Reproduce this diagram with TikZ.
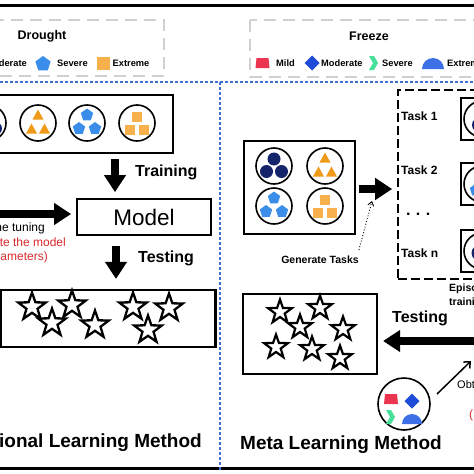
\documentclass[tikz,border=0pt]{standalone}
\usepackage{fontspec}
\setmainfont{Liberation Sans}
\usetikzlibrary{shapes.geometric,arrows.meta,calc}
\definecolor{navy}{HTML}{13246B}
\definecolor{orgT}{HTML}{F09A1A}
\definecolor{orgS}{HTML}{F7B04C}
\definecolor{bluP}{HTML}{3A8EEA}
\definecolor{redF}{HTML}{EB3550}
\definecolor{bluD}{HTML}{1F4BD9}
\definecolor{grnF}{HTML}{46E09A}
\definecolor{bluH}{HTML}{3D6FE6}
\definecolor{dotblue}{HTML}{3F6FD1}
\definecolor{redtxt}{HTML}{DA2A2E}
\definecolor{lgray}{HTML}{D0D0D0}
\newcommand\myfs[1]{\fontsize{#1}{#1}\selectfont}
\tikzset{
  pent/.pic={\fill[bluP] (90:#1 pt) -- (162:#1 pt) -- (234:#1 pt) -- (306:#1 pt) -- (18:#1 pt) -- cycle;},
  tri/.pic={\fill[orgT] (-5.5,4.5) -- (5.5,4.5) -- (0,-5.5) -- cycle;},
  sq/.pic={\fill[orgS] (-#1,-#1) rectangle (#1,#1);},
  trap/.pic={\fill[redF] (-7,5) -- (7,5) -- (6,-5) -- (-6,-5) -- cycle;},
  diam/.pic={\fill[bluD] (0,-#1) -- (#1,0) -- (0,#1) -- (-#1,0) -- cycle;},
  chev/.pic={\fill[grnF] (-4,-7) -- (1,-7) -- (5,0) -- (1,7) -- (-4,7) -- (0,0) -- cycle;},
  half/.pic={\fill[bluH] (-#1,0) -- (#1,0) arc[start angle=0, end angle=-180, radius=#1] -- cycle;},
  navygrp/.pic={\fill[navy] (0,-7) circle[radius=6.5pt]; \fill[navy] (-7.5,5.5) circle[radius=6.5pt]; \fill[navy] (7.5,5.5) circle[radius=6.5pt];},
  trigrp/.pic={\pic at (0,-8) {tri}; \pic at (-6.5,6) {tri}; \pic at (6.5,6) {tri};},
  pentgrp/.pic={\pic at (0,-8) {pent=6.5}; \pic at (-8,5.5) {pent=6.5}; \pic at (8,5.5) {pent=6.5};},
  sqgrp/.pic={\pic at (0,-6) {sq=5}; \pic at (-7,7) {sq=5}; \pic at (7,7) {sq=5};},
}
\begin{document}
\begin{tikzpicture}[x=1pt,y=-1pt,
  box/.style={draw, rectangle, line width=2.2pt, inner sep=0},
  grp/.style={draw, circle, line width=1.6pt, inner sep=0, minimum size=36pt},
  txt/.style={inner sep=0},
  bold/.style={inner sep=0, font=\bfseries},
  bigarrow/.style={line width=7.5pt, -{Triangle[width=21pt,length=17pt]}},
  lgbox/.style={draw=lgray, line width=2.5pt, dash pattern=on 12pt off 7pt},
  bdot/.style={draw=dotblue, line width=2.2pt, dash pattern=on 3pt off 2pt},
  lstar/.style={draw, fill=white, star, star points=5, star point ratio=2.5, minimum size=29pt, inner sep=0, line width=2.3pt},
  rstar/.style={draw, fill=white, star, star points=5, star point ratio=2.5, minimum size=25pt, inner sep=0, line width=2.2pt},
]
\clip (0,0) rectangle (474,474);
\fill[white] (0,0) rectangle (474,474);
% frame lines
\draw[line width=3pt] (-10,5) -- (484,5);
\draw[line width=3pt] (-10,468.5) -- (484,468.5);
% legends
\draw[lgbox] (-20,20) rectangle (164,76);
\draw[lgbox] (250,20) rectangle (510,77);
\node[bold, font=\bfseries\myfs{12.5}] (dtitle) at (42,36) {Drought};
\node[bold, font=\bfseries\myfs{9.3}, anchor=east] (dmod) at (27,63) {Moderate};
\pic at (43,64) {pent=8};
\node[bold, font=\bfseries\myfs{9.3}, anchor=west] (dsev) at (57,63) {Severe};
\pic at (103.5,63) {sq=6.5};
\node[bold, font=\bfseries\myfs{9.3}, anchor=west] (dext) at (112.5,63) {Extreme};
\node[bold, font=\bfseries\myfs{12.5}] (ftitle) at (369,36) {Freeze};
\pic at (262.5,63) {trap};
\node[bold, font=\bfseries\myfs{9.3}, anchor=west] (fmild) at (276,63) {Mild};
\pic at (312,63) {diam=7.5};
\node[bold, font=\bfseries\myfs{9.3}, anchor=west] (fmod) at (321,63) {Moderate};
\pic at (373,63) {chev};
\node[bold, font=\bfseries\myfs{9.3}, anchor=west] (fsev) at (382,63) {Severe};
\pic at (433,69) {half=11};
\node[bold, font=\bfseries\myfs{9.3}, anchor=west] (fext) at (447,63) {Extreme};
% blue dotted separators
\draw[bdot] (0,82) -- (474,82);
\draw[bdot] (220,82) -- (220,470);
% ===== left panel =====
\node[box, minimum width=183pt, minimum height=58pt] (ldata) at (81.5,124) {};
\node[grp] (lc0) at (-12,123) {}; \pic at (-12,123) {navygrp};
\node[grp] (lc1) at (38,123) {}; \pic at (38,123) {trigrp};
\node[grp] (lc2) at (87,123) {}; \pic at (87,123) {pentgrp};
\node[grp] (lc3) at (137,123) {}; \pic at (137,123) {sqgrp};
\node[box, line width=1.8pt, minimum width=134pt, minimum height=36pt, font=\myfs{22.5}] (model) at (144,217) {Model};
\node[box, minimum width=215pt, minimum height=57pt] (starsL) at (108,318.5) {};
\coordinate (tr) at (115,0);
\coordinate (te) at (116,0);
\draw[bigarrow, shorten <=5pt, shorten >=6pt] (ldata.south -| tr) -- (model.north -| tr);
\node[bold, font=\bfseries\myfs{16}, anchor=west] (training) at (135,172) {Training};
\coordinate (inL) at (-5,214);
\draw[bigarrow, shorten >=5pt] (inL) -- (model.west |- inL);
\node[txt, font=\myfs{12}, anchor=east] (ft1) at (45,228) {Fine tuning};
\node[txt, font=\myfs{12}, text=redtxt, anchor=east] (ft2) at (66,243) {(Update the model};
\node[txt, font=\myfs{12}, text=redtxt, anchor=east] (ft3) at (48,257) {parameters)};
\draw[bigarrow, shorten <=10pt, shorten >=10pt] (model.south -| te) -- (starsL.north -| te);
\node[bold, font=\bfseries\myfs{16}, anchor=west] (testL) at (138,258) {Testing};
\node[lstar] (a1) at (32,307) {};
\node[lstar] (a2) at (52,323) {};
\node[lstar] (a3) at (72,305) {};
\node[lstar] (a4) at (95,325) {};
\node[lstar] (a5) at (133,307) {};
\node[lstar] (a6) at (148,330) {};
\node[lstar] (a7) at (169,308) {};
\node[bold, font=\bfseries\myfs{19}, anchor=east] (tlm) at (202,443) {Traditional Learning Method};
% ===== right panel =====
\node[box, minimum width=111pt, minimum height=93pt] (bigdata) at (299.5,187.5) {};
\node[grp] (rc1) at (274,166) {}; \pic at (274,166) {navygrp};
\node[grp] (rc2) at (325,166) {}; \pic at (325,166) {trigrp};
\node[grp] (rc3) at (274,206) {}; \pic at (274,206) {pentgrp};
\node[grp] (rc4) at (325,206) {}; \pic at (325,206) {sqgrp};
\node[draw, rectangle, line width=1.6pt, dash pattern=on 9pt off 4pt, inner sep=0, minimum width=102pt, minimum height=189pt] (episode) at (449,184.5) {};
\draw[bigarrow, shorten <=3pt, shorten >=5pt] (bigdata.east |- 0,189) -- (episode.west |- 0,189);
\coordinate (gt) at (372,201);
\node[bold, font=\bfseries\myfs{10.5}] (gen) at (320,260) {Generate Tasks};
\draw[line width=0.9pt, dotted, -{Straight Barb[length=4pt,width=6pt]}] ([yshift=6pt]gen.north east) -- (gt);
\node[bold, font=\bfseries\myfs{12}, anchor=west] (task1) at (401,116) {Task 1};
\node[bold, font=\bfseries\myfs{12}, anchor=west] (task2) at (401,170) {Task 2};
\node[bold, font=\bfseries\myfs{16}, anchor=west] (dots) at (406,214) {.\,\,.\,\,.};
\node[bold, font=\bfseries\myfs{12}, anchor=west] (taskn) at (401,253) {Task n};
\node[box, line width=2pt, minimum width=36pt, minimum height=42pt] (tb1) at (479,119) {};
\node[box, line width=2pt, minimum width=36pt, minimum height=42pt] (tb2) at (479,184) {};
\node[box, line width=2pt, minimum width=36pt, minimum height=42pt] (tbn) at (479,251) {};
\node[grp] (tc1) at (482,119) {}; \fill[navy] (479,125) circle[radius=7pt];
\node[grp] (tc2) at (482,184) {}; \pic at (476,190) {pent=6.5};
\node[grp] (tcn) at (482,251) {}; \fill[navy] (479,253) circle[radius=7.5pt];
\node[bold, font=\bfseries\myfs{10.5}, anchor=west] (epi1) at (449,289) {Episodic};
\node[bold, font=\bfseries\myfs{10.5}, anchor=west] (epi2) at (449,303) {training};
\node[box, minimum width=134pt, minimum height=80pt] (starsR) at (310,334) {};
\node[rstar] (b1) at (280,312) {};
\node[rstar] (b2) at (320,308) {};
\node[rstar] (b3) at (300,327) {};
\node[rstar] (b4) at (343,329) {};
\node[rstar] (b5) at (276,347) {};
\node[rstar] (b6) at (312,349) {};
\node[rstar] (b7) at (340,358) {};
\node[bold, font=\bfseries\myfs{16}, anchor=west] (testR) at (392,318) {Testing};
\coordinate (outR) at (490,341);
\draw[bigarrow, shorten >=5pt] (outR) -- (starsR.east |- outR);
\node[draw, circle, line width=1.6pt, inner sep=0, minimum size=52pt] (fc) at (404,404) {};
\pic at (391,399) {trap};
\pic at (412,401) {diam=7.5};
\pic at (390,417) {chev};
\pic at (412,424) {half=10};
\coordinate (obs) at (471,361);
\draw[line width=1.5pt, -{Straight Barb[length=5pt,width=9pt]}] (437,394) -- (obs);
\node[txt, font=\myfs{11}, anchor=west] (obt) at (457,385) {Obtain};
\node[txt, font=\myfs{12}, text=redtxt, anchor=west] (red1) at (469,415) {(};
\node[bold, font=\bfseries\myfs{19}, anchor=west] (mlm) at (240,445) {Meta Learning Method};
\end{tikzpicture}
\end{document}
